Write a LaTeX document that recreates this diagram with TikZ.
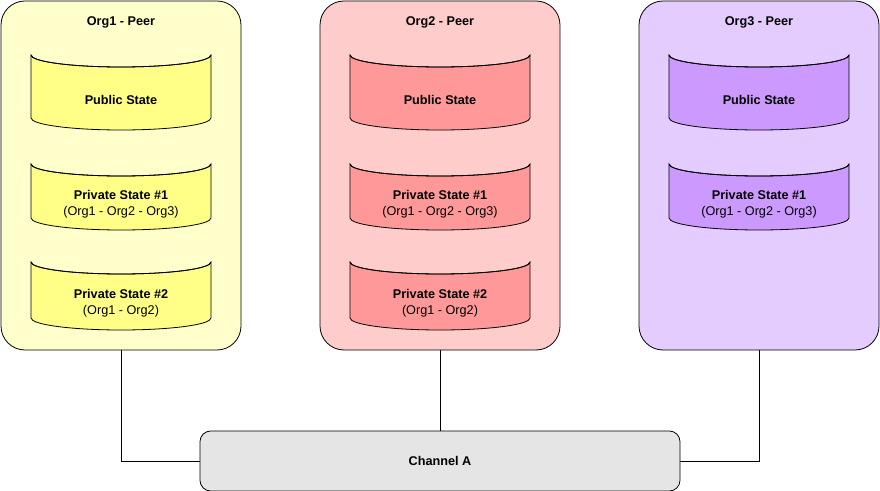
\documentclass[tikz,border=0pt]{standalone}
\usepackage{fontspec}
\setmainfont{Liberation Sans}
\begin{document}
\begin{tikzpicture}[x=0.75pt,y=-0.75pt,font=\fontsize{9.5}{12}\selectfont,
  org/.style={draw=black,rounded corners=18pt,line width=0.6pt},
  lbl/.style={font=\fontsize{9.5}{12}\selectfont\bfseries},
  conn/.style={draw=black,line width=0.5pt}]
\useasboundingbox (0,0) rectangle (880,491);
\definecolor{oA}{HTML}{FFFFCC}\definecolor{cA}{HTML}{FFFF88}
\definecolor{oB}{HTML}{FFCCCC}\definecolor{cB}{HTML}{FF9999}
\definecolor{oC}{HTML}{E5CCFF}\definecolor{cC}{HTML}{CC99FF}
\newcommand{\cyl}[5]{% x, ytop, ybottom, fill, text
  \filldraw[fill=#4,line width=0.6pt] (#1-90,#2+12) -- (#1-90,#3-12) arc[start angle=180,end angle=0,x radius=90,y radius=12] -- (#1+90,#2+12) arc[start angle=0,end angle=180,x radius=90,y radius=12] -- cycle;
  \draw[line width=0.6pt] (#1-90,#2+12) arc[start angle=180,end angle=0,x radius=90,y radius=12];
  \node[align=center] at (#1,{(#2+#3)/2+13}) {#5};}
\foreach \x/\o/\c/\n in {121/oA/cA/1,440/oB/cB/2,759/oC/cC/3}{
  \draw[org,fill=\o] (\x-120,1) rectangle (\x+120,350);
  \node[lbl] (t\n) at (\x,22) {Org\n\ - Peer};
  \cyl{\x}{43}{130}{\c}{\textbf{Public State}}
  \cyl{\x}{152}{230}{\c}{\textbf{Private State \#1}\\(Org1 - Org2 - Org3)}
}
\cyl{121}{250}{330}{cA}{\textbf{Private State \#2}\\(Org1 - Org2)}
\cyl{440}{250}{330}{cB}{\textbf{Private State \#2}\\(Org1 - Org2)}
\node[draw=black,fill=black!10,rounded corners=8pt,minimum width=360pt,minimum height=45pt,lbl,line width=0.6pt] (ch) at (440,461) {Channel A};
\coordinate (o1) at (121,350);\coordinate (o2) at (440,350);\coordinate (o3) at (759,350);
\draw[conn] (o1) |- (ch.west);
\draw[conn] (o2) -- (ch.north);
\draw[conn] (o3) |- (ch.east);
\end{tikzpicture}
\end{document}
